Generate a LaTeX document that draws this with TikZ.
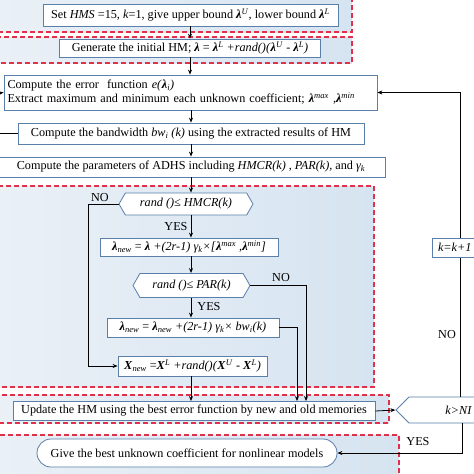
\documentclass[tikz,border=0pt]{standalone}
\usepackage{fontspec}
\setmainfont{Liberation Serif}
\usetikzlibrary{shapes.geometric,shapes.symbols,shapes.misc,arrows.meta}
\newcommand\Lmb{\textbf{\textit{λ}}}
\newcommand\Xb{\textbf{\textit{X}}}
\definecolor{boxline}{HTML}{5A7FA8}
\definecolor{dashred}{HTML}{E0304A}
\definecolor{regL}{HTML}{EAF0F6}
\definecolor{regR}{HTML}{D6E4F1}
\tikzset{
  box/.style={draw=boxline, line width=0.8pt, fill=white, inner sep=1.5pt, font=\fontsize{12.2}{14}\selectfont},
  dec/.style={box, signal, signal to=west and east, signal pointer angle=120},
  region/.style={left color=regL, right color=regR, draw=dashred, line width=1.2pt, dash pattern=on 5pt off 3pt},
  arr/.style={draw=black, line width=0.8pt, -{Stealth[length=5pt,width=4pt]}},
  ln/.style={draw=black, line width=0.8pt},
  lbl/.style={font=\fontsize{12.2}{14}\selectfont, inner sep=0pt}
}
\begin{document}
\begin{tikzpicture}[x=1pt,y=-1pt]
\useasboundingbox (0,0) rectangle (474,474);
\clip (0,0) rectangle (474,474);
\fill[white] (0,0) rectangle (474,474);
% regions
\path[region] (-5,-5) rectangle (352,32);
\path[region] (-5,37) rectangle (352,63);
\path[region] (-5,186) rectangle (374,387);
\path[region] (-5,395) rectangle (389,423);
\path[region] (-5,435) rectangle (399,480);
% column coordinates
\coordinate (col) at (191,0);
\coordinate (nox) at (88,0);
\coordinate (nox2) at (306,0);
\coordinate (yx) at (297,0);
\coordinate (loop) at (460,0);
\coordinate (loopb) at (462,0);
\coordinate (lin1) at (0,93);
\coordinate (lin2) at (0,133.5);
% nodes
\node[box, minimum width=295pt, minimum height=22pt] (b1) at (190.5,15)
  {Set \textit{HMS} =15, \textit{k}=1, give upper bound \Lmb\textsuperscript{\textit{U}}, lower bound \Lmb\textsuperscript{\textit{L}}};
\node[box, minimum width=261pt, minimum height=18pt] (b2) at (190,48)
  {Generate the initial HM; \Lmb{} = \Lmb\textsuperscript{\textit{L}} \textit{+rand()(}\Lmb\textsuperscript{\textit{U}} \textit{-} \Lmb\textsuperscript{\textit{L}}\textit{)}};
\node[box, minimum width=373pt, minimum height=35pt, align=left, text width=366pt] (b3) at (190.5,92.5)
  {Compute the error\ \ function \textit{e(}\Lmb\textsubscript{\textit{i}}\textit{)}\\
   Extract maximum and minimum each unknown coefficient; \Lmb\textsuperscript{\textit{max}} ,\Lmb\textsuperscript{\textit{min}}};
\node[box, minimum width=346pt, minimum height=21pt] (b4) at (191,133.5)
  {Compute the bandwidth \textit{bw\textsubscript{i} (k)} using the extracted results of HM};
\node[box, minimum width=388pt, minimum height=20pt] (b5) at (191,167)
  {Compute the parameters of ADHS including \textit{HMCR(k)} , \textit{PAR(k),} and \textit{γ\textsubscript{k}}};
\node[dec, minimum width=134pt, minimum height=22pt] (d1) at (186,204)
  {\textit{rand ()≤ HMCR(k)}};
\node[box, minimum width=178pt, minimum height=18pt] (b6) at (189,247)
  {\Lmb\textsubscript{\textit{new}} = \Lmb{} \textit{+(2r-1) γ\textsubscript{k}×[}\Lmb\textsuperscript{\textit{max}} \textit{,}\Lmb\textsuperscript{\textit{min}}\textit{]}};
\node[dec, minimum width=117pt, minimum height=24pt] (d2) at (191.5,285.5)
  {\textit{rand ()≤ PAR(k)}};
\node[box, minimum width=172pt, minimum height=19pt] (b7) at (193,327.5)
  {\Lmb\textsubscript{\textit{new}} = \Lmb\textsubscript{\textit{new}} \textit{+(2r-1) γ\textsubscript{k}× bw\textsubscript{i}(k)}};
\node[box, minimum width=149pt, minimum height=20pt] (b8) at (192.5,366)
  {\Xb\textsubscript{\textit{new}} =\Xb\textsuperscript{\textit{L}} \textit{+rand()(}\Xb\textsuperscript{\textit{U}} \textit{-} \Xb\textsuperscript{\textit{L}}\textit{)}};
\node[box, minimum width=362pt, minimum height=19pt] (b9) at (194,411)
  {Update the HM using the best error function by new and old memories};
\node[box, signal, signal to=west and east, signal pointer angle=90, minimum width=150pt, minimum height=26pt] (d3) at (471,410) {};
\node[lbl, anchor=east] (d3t) at (472,410) {\textit{k>NI}};
\node[box, rounded rectangle, minimum width=303pt, minimum height=28pt] (b10) at (187,453)
  {Give the best unknown coefficient for nonlinear models};
% labels
\node[lbl] (no1) at (100,198) {NO};
\node[lbl] (yes1) at (176,227) {YES};
\node[lbl] (no2) at (281,278) {NO};
\node[lbl] (yes2) at (209,307) {YES};
\node[lbl] (no3) at (447,335) {NO};
\node[lbl] (yes3) at (418,442) {YES};
% connectors
\draw[arr] (b1.south -| b2.north) -- (b2.north);
\draw[arr] (b2.south) -- (b3.north -| b2.south);
\draw[arr] (b3.south -| col) -- (b4.north -| col);
\draw[arr] (b4.south -| col) -- (b5.north -| col);
\draw[arr] (b5.south -| col) -- (d1.north -| col);
\draw[arr] (d1.south -| col) -- (b6.north -| col);
\draw[arr] (b6.south -| col) -- (d2.north -| col);
\draw[arr] (d2.south -| col) -- (b7.north -| col);
\draw[arr] (b8.south -| col) -- (b9.north -| col);
\draw[arr] (d1.west) -- (nox |- d1.west) -- (nox |- b8.west) -- (b8.west);
\draw[arr] (d2.east) -- (nox2 |- d2.east) -- (nox2 |- b9.north);
\draw[arr] (b7.east) -- (yx |- b7.east) -- (yx |- b9.north);
\draw[arr] (b9.east) -- (d3.west);
\draw[arr] (lin1) -- (b3.west);
\draw[ln] (lin2) -- (b4.west);
\draw[arr] (d3.north -| loop) -- (loop |- b3.east) -- (b3.east);
\draw[arr] (d3.south -| loopb) -- (loopb |- b10.east) -- (b10.east);
% k=k+1 box drawn over the loop line
\node[box, minimum height=19pt, text width=56pt, inner xsep=6pt, align=left] (kk) at (466,247.5)
  {\textit{k=k+1}};
\end{tikzpicture}
\end{document}
